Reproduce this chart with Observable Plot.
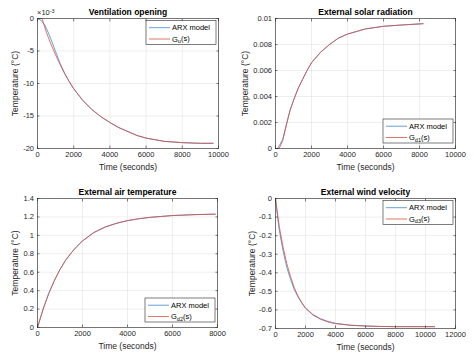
<!DOCTYPE html>
<html><head><meta charset="utf-8">
<script src="https://cdn.jsdelivr.net/npm/d3@7"></script>
<script src="https://cdn.jsdelivr.net/npm/@observablehq/plot@0.6"></script>
<style>
body{margin:0;background:#fff;}
#wrap{position:relative;width:474px;height:358px;background:#fff;}
.panel{position:absolute;}
</style></head><body><div id="wrap"></div>
<script>
// ---- data ----
const titles = ["Ventilation opening", "External solar radiation", "External air temperature", "External wind velocity"];
const legendSubs = ["u", "d1", "d2", "d3"];
const xLabel = "Time (seconds)";
const yLabel = "Temperature (°C)";

// Panel 1 (values in ×10^-3)
const p1BlueT = [0,200,400,600,800,1000,1250,1500,1750,2000,2500,3000,3500,4000,4500,5000,5500,6000,7000,8000,9000,9700];
const p1BlueV = [0,-0.3,-1.0,-2.2,-3.6,-5.1,-6.9,-8.4,-9.7,-10.8,-12.6,-14.0,-15.1,-16.0,-16.8,-17.4,-18.0,-18.4,-18.9,-19.1,-19.2,-19.2];
const p1RedT = [0,250,500,750,1000,1250,1500,1750,2000,2500,3000,3500,4000,4500,5000,5500,6000,7000,8000,9000,9700];
const p1RedV = [0,0,-2.2,-4.0,-5.6,-7.1,-8.5,-9.7,-10.8,-12.6,-14.0,-15.1,-16.0,-16.8,-17.4,-18.0,-18.4,-18.9,-19.1,-19.2,-19.2];
const p1XTicks = [0,2000,4000,6000,8000,10000];
const p1YTicks = [-20,-15,-10,-5,0];

// Panel 2
const p2BlueT = [0,100,200,400,600,800,1000,1250,1500,1750,2000,2500,3000,3500,4000,4500,5000,5500,6000,7000,8200];
const p2BlueV = [0,0,0.0002,0.0007,0.0018,0.0029,0.0037,0.0046,0.0053,0.0060,0.0066,0.0074,0.0080,0.0085,0.0088,0.0090,0.0092,0.0093,0.0094,0.0095,0.0096];
const p2RedT = [0,200,400,600,800,1000,1250,1500,1750,2000,2500,3000,3500,4000,4500,5000,5500,6000,7000,8200];
const p2RedV = [0,0,0.0006,0.0018,0.0029,0.0037,0.0046,0.0053,0.0060,0.0066,0.0074,0.0080,0.0085,0.0088,0.0090,0.0092,0.0093,0.0094,0.0095,0.0096];
const p2XTicks = [0,2000,4000,6000,8000,10000];
const p2YTicks = [0,0.002,0.004,0.006,0.008,0.01];

// Panel 3
const p3BlueT = [0,250,500,750,1000,1250,1500,1750,2000,2500,3000,3500,4000,4500,5000,5500,6000,7000,7900];
const p3BlueV = [0,0.20,0.37,0.51,0.63,0.73,0.81,0.88,0.94,1.03,1.09,1.13,1.16,1.18,1.195,1.205,1.215,1.225,1.23];
const p3RedT = [0,250,500,750,1000,1250,1500,1750,2000,2500,3000,3500,4000,4500,5000,5500,6000,7000,7900];
const p3RedV = [0,0.20,0.37,0.51,0.63,0.73,0.81,0.88,0.94,1.03,1.09,1.13,1.16,1.18,1.195,1.205,1.215,1.225,1.23];
const p3XTicks = [0,2000,4000,6000,8000];
const p3YTicks = [0,0.2,0.4,0.6,0.8,1,1.2,1.4];

// Panel 4
const p4BlueT = [0,100,250,500,750,1000,1250,1500,1750,2000,2500,3000,3500,4000,5000,6000,7000,8000,9000,10600];
const p4BlueV = [0,-0.075,-0.17,-0.28,-0.37,-0.435,-0.49,-0.53,-0.563,-0.59,-0.625,-0.647,-0.662,-0.672,-0.682,-0.686,-0.689,-0.69,-0.69,-0.69];
const p4RedT = [0,100,250,500,750,1000,1250,1500,1750,2000,2500,3000,3500,4000,5000,6000,7000,8000,9000,10600];
const p4RedV = [0,-0.06,-0.15,-0.26,-0.35,-0.42,-0.48,-0.525,-0.56,-0.59,-0.628,-0.65,-0.665,-0.674,-0.683,-0.687,-0.689,-0.69,-0.69,-0.69];
const p4XTicks = [0,2000,4000,6000,8000,10000,12000];
const p4YTicks = [-0.7,-0.6,-0.5,-0.4,-0.3,-0.2,-0.1,0];

// ---- rendering ----
const BLUE = "#3f87cf", RED = "#d9503f", INK = "#262626", GRID = "#e3e3e3";
const FONT = "'Liberation Sans', Arial, Helvetica, sans-serif";
const fmt = d => String(+(+d).toPrecision(6));
const zipTV = (T, V) => T.map((t, i) => ({t, v: V[i]}));

const panels = [
  {left:0, top:0, blue:zipTV(p1BlueT,p1BlueV), red:zipTV(p1RedT,p1RedV), xt:p1XTicks, yt:p1YTicks, xd:[0,10000], yd:[-20,0], m:[18,19,31,37], leg:"ne", ylx:15, exp:true},
  {left:237, top:0, blue:zipTV(p2BlueT,p2BlueV), red:zipTV(p2RedT,p2RedV), xt:p2XTicks, yt:p2YTicks, xd:[0,10000], yd:[0,0.01], m:[18,19,31,38], leg:"se", ylx:8},
  {left:0, top:179, blue:zipTV(p3BlueT,p3BlueV), red:zipTV(p3RedT,p3RedV), xt:p3XTicks, yt:p3YTicks, xd:[0,8000], yd:[0,1.4], m:[19,20,31,37], leg:"se", ylx:15},
  {left:237, top:179, blue:zipTV(p4BlueT,p4BlueV), red:zipTV(p4RedT,p4RedV), xt:p4XTicks, yt:p4YTicks, xd:[0,12000], yd:[-0.7,0], m:[19,19,30,38], leg:"ne", ylx:15}
];

function legendMark(pos, sub) {
  return (index, scales, values, dims) => {
    const w = 70, h = 24;
    const x0 = dims.width - dims.marginRight - 2 - w;
    const y0 = pos === "ne" ? dims.marginTop + 2.5 : dims.height - dims.marginBottom - 5 - h;
    const g = d3.create("svg:g").attr("text-anchor", "start");
    g.append("rect").attr("x", x0).attr("y", y0).attr("width", w).attr("height", h)
      .attr("fill", "white").attr("stroke", INK).attr("stroke-width", 0.6);
    const rows = [[BLUE, null], [RED, sub]];
    rows.forEach(([c, s], i) => {
      const yy = y0 + 7.2 + i * 11.3;
      g.append("line").attr("x1", x0 + 3).attr("x2", x0 + 24).attr("y1", yy).attr("y2", yy)
        .attr("stroke", c).attr("stroke-width", 0.8);
      const t = g.append("text").attr("x", x0 + 26).attr("y", yy).attr("dy", "0.35em")
        .attr("text-anchor", "start").attr("font-size", 7.5).attr("fill", "black");
      if (s === null) t.text("ARX model");
      else {
        t.append("tspan").text("G");
        t.append("tspan").attr("dy", "0.3em").attr("font-size", 5.5).text(s);
        t.append("tspan").attr("dy", "-0.3em").text("(s)");
      }
    });
    return g.node();
  };
}

function exponentMark() {
  return (index, scales, values, dims) => {
    const t = d3.create("svg:text").attr("x", dims.marginLeft).attr("y", dims.marginTop - 3)
      .attr("text-anchor", "start").attr("font-size", 7.5).attr("fill", INK);
    t.append("tspan").text("×10");
    t.append("tspan").attr("dy", "-0.45em").attr("font-size", 5.5).text("-3");
    return t.node();
  };
}

const wrap = document.getElementById("wrap");
panels.forEach((p, k) => {
  const [mt, mr, mb, ml] = p.m;
  const marks = [
    Plot.gridX(p.xt, {stroke: GRID, strokeOpacity: 1, strokeWidth: 0.6}),
    Plot.gridY(p.yt, {stroke: GRID, strokeOpacity: 1, strokeWidth: 0.6}),
    Plot.line(p.blue, {x: "t", y: "v", stroke: BLUE, strokeWidth: 0.8}),
    Plot.line(p.red, {x: "t", y: "v", stroke: RED, strokeWidth: 0.8}),
    Plot.frame({stroke: INK, strokeWidth: 0.6}),
    Plot.axisX(p.xt, {anchor: "bottom", tickSize: -2.5, tickPadding: 6, tickFormat: fmt, label: null, stroke: INK, strokeWidth: 0.6, fill: INK}),
    Plot.axisX(p.xt, {anchor: "top", tickSize: -2.5, tickFormat: () => "", label: null, stroke: INK, strokeWidth: 0.6}),
    Plot.axisY(p.yt, {anchor: "left", tickSize: -2.5, tickPadding: 6, tickFormat: fmt, label: null, stroke: INK, strokeWidth: 0.6, fill: INK}),
    Plot.axisY(p.yt, {anchor: "right", tickSize: -2.5, tickFormat: () => "", label: null, stroke: INK, strokeWidth: 0.6}),
    Plot.text([titles[k]], {frameAnchor: "top", lineAnchor: "middle", dy: -6, fontWeight: "bold", fontSize: 8.5, fill: "black"}),
    Plot.text([xLabel], {frameAnchor: "bottom", lineAnchor: "middle", dy: 19, fontSize: 8.5, fill: INK}),
    Plot.text([yLabel], {frameAnchor: "left", textAnchor: "middle", lineAnchor: "middle", dx: p.ylx - ml, rotate: -90, fontSize: 8.5, fill: INK}),
    legendMark(p.leg, legendSubs[k])
  ];
  if (p.exp) marks.push(exponentMark());
  const chart = Plot.plot({
    width: 237, height: 179,
    marginTop: mt, marginRight: mr, marginBottom: mb, marginLeft: ml,
    style: {fontFamily: FONT, fontSize: "7.5px", background: "white", color: INK, overflow: "visible"},
    x: {domain: p.xd, label: null},
    y: {domain: p.yd, label: null},
    marks
  });
  const div = document.createElement("div");
  div.className = "panel";
  div.style.left = p.left + "px";
  div.style.top = p.top + "px";
  div.appendChild(chart);
  wrap.appendChild(div);
});
</script>
</body></html>
